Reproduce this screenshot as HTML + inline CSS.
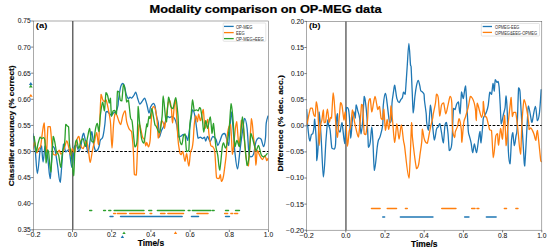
<!DOCTYPE html><html><head><meta charset="utf-8"><style>html,body{margin:0;padding:0;background:#fff;overflow:hidden}svg{display:block}</style></head><body><svg width="550" height="252" viewBox="0 0 550 252">
<rect width="550" height="252" fill="#fff"/>
<defs><clipPath id="ca"><rect x="33.3" y="21.0" width="235.2" height="208.8"/></clipPath><clipPath id="cb"><rect x="306.6" y="21.4" width="235.19999999999993" height="208.79999999999998"/></clipPath></defs>
<text x="149.5" y="12.7" font-family="Liberation Sans" font-weight="bold" font-size="11.3" fill="#000" stroke="#000" stroke-width="0.22" textLength="232.0" lengthAdjust="spacingAndGlyphs">Modality comparison on OP-MEG data</text>
<line x1="72.80" y1="21.0" x2="72.80" y2="229.8" stroke="#3a3a3a" stroke-width="1.15"/>
<line x1="33.3" y1="151.50" x2="268.5" y2="151.50" stroke="#000" stroke-width="1.05" stroke-dasharray="2.75,1.57" stroke-dashoffset="-0.26"/>
<path d="M33.0,133.3 C33.37,136.02 34.47,142.88 35.2,149.6 C35.93,156.32 36.58,173.53 37.4,173.6 C38.22,173.60 39.42,154.60 40.1,150.0 C40.78,146.00 41.00,146.00 41.5,146.0 C42.00,148.00 42.52,162.00 43.1,162.0 C43.68,162.00 44.43,148.00 45.0,146.0 C45.57,146.00 46.00,147.67 46.5,150.0 C47.00,152.33 47.38,155.23 48.0,160.0 C48.62,164.77 49.43,178.60 50.2,178.6 C50.97,176.33 51.80,151.17 52.6,146.4 C53.40,146.40 54.18,146.90 55.0,150.0 C55.82,153.10 56.63,159.60 57.5,165.0 C58.37,170.40 59.20,182.40 60.2,182.4 C61.20,178.93 62.58,149.30 63.5,144.2 C64.42,144.20 64.78,150.90 65.7,151.8 C66.62,151.80 67.97,149.60 69.0,149.6 C70.03,152.20 71.03,167.40 71.9,167.4 C72.77,166.98 73.45,150.85 74.2,147.1 C74.95,144.90 75.65,144.90 76.4,144.9 C77.15,145.55 77.95,150.82 78.7,151.0 C79.45,151.00 80.27,148.50 80.9,146.0 C81.53,143.50 82.03,138.13 82.5,136.0 C82.97,133.87 83.03,133.20 83.7,133.2 C84.37,134.87 85.75,142.70 86.5,146.0 C87.25,149.30 87.58,153.00 88.2,153.0 C88.82,152.00 89.60,143.57 90.2,140.0 C90.80,136.43 91.25,131.60 91.8,131.6 C92.35,132.20 92.87,140.38 93.5,143.6 C94.13,146.82 94.92,149.83 95.6,150.9 C96.28,150.90 97.00,150.82 97.6,150.0 C98.20,149.18 98.77,147.60 99.2,146.0 C99.63,144.40 99.70,141.70 100.2,140.4 C100.70,139.10 101.68,139.12 102.2,138.2 C102.72,137.28 102.85,137.27 103.3,134.9 C103.75,132.53 104.45,127.82 104.9,124.0 C105.35,120.18 105.55,114.08 106.0,112.0 C106.45,111.50 107.05,111.50 107.6,111.5 C108.15,111.77 108.65,112.97 109.3,113.6 C109.95,114.23 110.78,115.30 111.5,115.3 C112.22,115.22 112.78,113.83 113.6,113.1 C114.42,112.37 115.67,112.17 116.4,110.9 C117.13,109.63 117.65,107.35 118.0,105.5 C118.35,103.65 118.05,102.93 118.5,99.8 C118.95,96.67 120.00,89.42 120.7,86.7 C121.40,83.98 122.07,83.58 122.7,83.5 C123.33,83.50 123.92,84.38 124.5,86.2 C125.08,88.02 125.55,92.32 126.2,94.4 C126.85,96.48 127.77,98.25 128.4,98.7 C129.03,98.70 129.47,97.18 130.0,97.1 C130.53,97.10 130.97,98.20 131.6,98.2 C132.23,97.93 133.10,96.50 133.8,95.5 C134.50,94.50 135.17,92.20 135.8,92.2 C136.43,92.65 136.93,96.20 137.6,98.2 C138.27,100.20 138.98,103.75 139.8,104.2 C140.62,104.20 141.68,101.90 142.5,100.9 C143.32,99.90 143.98,98.20 144.7,98.2 C145.42,98.75 146.08,101.72 146.8,104.2 C147.52,106.68 148.37,112.62 149.0,113.1 C149.63,113.10 149.87,108.73 150.6,107.1 C151.33,105.47 152.67,103.48 153.4,103.3 C154.13,103.30 154.47,103.82 155.0,106.0 C155.53,108.18 156.05,113.58 156.6,116.4 C157.15,119.22 157.83,119.45 158.3,122.9 C158.77,126.35 158.87,135.83 159.4,137.1 C159.93,137.10 160.78,132.32 161.5,130.5 C162.22,128.68 162.70,128.55 163.7,126.2 C164.70,123.85 166.50,117.85 167.5,116.4 C168.50,116.40 168.97,117.50 169.7,117.5 C170.43,117.50 171.08,116.40 171.9,116.4 C172.72,116.57 173.78,117.05 174.6,118.5 C175.42,119.95 176.15,122.00 176.8,125.1 C177.45,128.20 177.77,135.28 178.5,137.1 C179.23,137.10 180.38,136.45 181.2,136.0 C182.02,135.55 182.58,134.40 183.4,134.4 C184.22,134.40 185.38,135.00 186.1,136.0 C186.82,137.00 187.07,140.40 187.7,140.4 C188.33,138.85 189.08,131.80 189.9,126.7 C190.72,121.60 191.78,111.70 192.6,109.8 C193.42,109.80 194.15,112.38 194.8,115.3 C195.45,118.22 195.95,123.48 196.5,127.3 C197.05,131.12 197.47,136.57 198.1,138.2 C198.73,138.20 199.57,137.10 200.3,137.1 C201.03,137.15 201.80,138.48 202.5,138.5 C203.20,138.50 203.97,137.20 204.5,137.2 C205.03,137.62 205.18,141.00 205.7,141.0 C206.22,140.88 206.85,136.50 207.6,136.5 C208.35,136.60 209.35,141.60 210.2,141.6 C211.05,141.60 211.75,136.92 212.7,136.5 C213.65,136.50 215.05,137.60 215.9,139.1 C216.75,140.60 217.17,145.08 217.8,145.5 C218.43,145.50 218.95,143.40 219.7,141.6 C220.45,139.80 221.45,136.05 222.3,134.7 C223.15,133.50 224.07,133.50 224.8,133.5 C225.53,134.23 226.07,137.10 226.7,139.1 C227.33,141.10 228.13,145.50 228.6,145.5 C229.07,144.82 229.05,140.58 229.5,135.0 C229.95,129.42 230.75,113.67 231.3,112.0 C231.85,112.00 232.18,118.15 232.8,125.0 C233.42,131.85 234.22,145.78 235.0,153.1 C235.78,160.42 236.65,168.90 237.5,168.9 C238.35,168.27 239.35,154.95 240.1,149.3 C240.85,143.65 241.25,140.15 242.0,135.0 C242.75,129.85 243.75,119.50 244.6,118.4 C245.45,118.40 246.37,122.40 247.1,128.4 C247.83,134.40 248.37,149.65 249.0,154.4 C249.63,156.90 250.15,156.90 250.9,156.9 C251.65,156.90 252.65,156.90 253.5,154.4 C254.35,151.85 255.17,144.37 256.0,141.6 C256.83,138.83 257.65,138.22 258.5,137.8 C259.35,137.80 260.25,137.80 261.1,139.1 C261.95,140.58 262.87,146.70 263.6,146.7 C264.33,146.48 265.07,141.70 265.5,137.8 C265.93,133.90 265.77,127.00 266.2,123.3 C266.63,119.60 267.78,116.88 268.1,115.6" fill="none" stroke="#1f77b4" stroke-width="1.3" stroke-linejoin="round" clip-path="url(#ca)"/>
<path d="M33.0,149.6 C33.27,148.33 33.97,142.00 34.6,142.0 C35.23,142.55 36.07,151.82 36.8,152.9 C37.53,152.90 38.37,149.58 39.0,148.5 C39.63,147.42 40.05,148.50 40.6,146.4 C41.15,143.87 41.72,137.23 42.3,133.3 C42.88,129.37 43.57,122.80 44.1,122.8 C44.63,124.98 45.08,141.57 45.5,146.4 C45.92,151.23 46.18,151.80 46.6,151.8 C47.02,148.52 47.40,130.88 48.0,126.7 C48.60,126.70 49.52,126.70 50.2,126.7 C50.88,129.98 51.60,141.85 52.1,146.4 C52.60,150.95 52.65,152.55 53.2,154.0 C53.75,155.10 54.68,155.10 55.4,155.1 C56.12,154.92 56.87,153.72 57.5,152.9 C58.13,152.08 58.65,150.20 59.2,150.2 C59.75,150.38 60.25,153.55 60.8,154.0 C61.35,154.00 61.87,153.98 62.5,152.9 C63.13,151.82 63.88,149.50 64.6,147.5 C65.32,145.50 66.15,141.08 66.8,140.9 C67.45,140.90 67.87,144.03 68.5,146.4 C69.13,148.77 69.97,154.75 70.6,155.1 C71.23,155.10 71.65,148.87 72.3,148.5 C72.95,148.50 73.78,152.90 74.5,152.9 C75.22,151.63 75.88,143.63 76.6,140.9 C77.32,138.17 78.07,136.50 78.8,136.5 C79.53,137.42 80.27,144.40 81.0,146.4 C81.73,148.40 82.28,148.50 83.2,148.5 C84.12,147.58 85.60,140.90 86.5,140.9 C87.40,141.45 87.98,148.22 88.6,151.8 C89.22,155.38 89.57,162.40 90.2,162.4 C90.83,162.22 91.68,154.18 92.4,150.7 C93.12,147.22 93.78,144.50 94.5,141.5 C95.22,138.50 96.05,132.70 96.7,132.7 C97.35,133.23 97.93,144.70 98.4,144.7 C98.87,143.70 99.05,135.08 99.5,126.7 C99.95,118.32 100.57,98.88 101.1,94.4 C101.63,94.40 102.15,98.62 102.7,99.8 C103.25,100.98 103.85,101.50 104.4,101.5 C104.95,101.50 105.57,99.80 106.0,99.8 C106.43,100.05 106.63,101.52 107.0,103.0 C107.37,104.48 107.73,106.28 108.2,108.7 C108.67,111.12 109.40,114.95 109.8,117.5 C110.20,120.05 110.23,118.88 110.6,124.0 C110.97,129.12 111.50,148.20 112.0,148.2 C112.50,148.20 113.05,129.85 113.6,124.0 C114.15,118.15 114.75,114.55 115.3,113.1 C115.85,113.10 116.27,113.85 116.9,115.3 C117.53,116.75 118.47,120.27 119.1,121.8 C119.73,123.33 120.07,124.50 120.7,124.5 C121.33,123.42 122.17,117.57 122.9,115.3 C123.63,113.03 124.47,110.90 125.1,110.9 C125.73,111.98 126.07,118.88 126.7,121.8 C127.33,124.72 128.27,126.95 128.9,128.4 C129.53,129.85 130.05,129.97 130.5,130.5 C130.95,131.03 131.13,130.50 131.6,131.6 C132.07,134.85 132.83,142.85 133.3,150.0 C133.77,157.15 133.90,170.33 134.4,174.5 C134.90,175.00 135.78,175.00 136.3,175.0 C136.82,170.92 137.00,158.50 137.5,150.0 C138.00,141.50 138.47,126.15 139.3,124.0 C140.13,124.00 141.68,134.55 142.5,137.1 C143.32,139.30 143.65,137.85 144.2,139.3 C144.75,140.75 145.37,145.27 145.8,145.8 C146.23,145.80 146.35,142.50 146.8,142.5 C147.25,142.68 147.95,146.90 148.5,146.9 C149.05,146.55 149.70,143.77 150.1,140.4 C150.50,137.03 150.53,131.98 150.9,126.7 C151.27,121.42 151.80,112.07 152.3,108.7 C152.80,106.50 153.37,106.50 153.9,106.5 C154.43,106.68 154.95,107.25 155.5,109.8 C156.05,112.35 156.73,117.07 157.2,121.8 C157.67,126.53 157.83,136.50 158.3,138.2 C158.77,138.20 159.47,134.92 160.0,132.0 C160.53,129.08 160.88,122.03 161.5,120.7 C162.12,120.70 163.20,122.72 163.7,124.0 C164.20,125.28 164.18,128.40 164.5,128.4 C164.82,128.07 165.00,126.18 165.6,122.0 C166.20,117.82 167.42,106.88 168.1,103.3 C168.78,100.50 169.15,100.50 169.7,100.5 C170.25,101.40 170.93,104.97 171.4,108.7 C171.87,112.43 171.97,122.90 172.5,122.9 C173.03,122.00 174.07,107.12 174.6,103.3 C175.13,100.00 175.15,100.00 175.7,100.0 C176.25,105.82 177.27,129.75 177.9,138.2 C178.53,146.65 179.13,148.13 179.5,150.7 C179.87,153.27 179.82,152.93 180.1,153.6 C180.38,154.27 180.75,154.70 181.2,154.7 C181.65,154.35 182.17,151.50 182.8,151.5 C183.43,152.60 184.37,160.95 185.0,161.3 C185.63,161.30 185.97,153.60 186.6,153.6 C187.23,154.42 188.15,166.20 188.8,166.2 C189.45,166.02 189.95,155.50 190.5,152.5 C191.05,149.50 191.65,150.22 192.1,148.2 C192.55,146.18 192.83,144.43 193.2,140.4 C193.57,136.37 193.85,128.10 194.3,124.0 C194.75,119.90 195.37,116.17 195.9,115.8 C196.43,115.80 197.05,121.80 197.5,121.8 C197.95,121.53 198.13,114.38 198.6,114.2 C199.07,114.20 199.85,120.03 200.3,120.7 C200.75,120.70 200.82,120.08 201.3,118.2 C201.78,116.32 202.57,109.40 203.2,109.4 C203.83,111.10 204.37,126.72 205.1,128.4 C205.83,128.40 206.97,119.50 207.6,119.5 C208.23,120.35 208.37,129.17 208.9,133.5 C209.43,137.83 210.17,143.30 210.8,145.5 C211.43,146.70 212.07,145.87 212.7,146.7 C213.33,147.53 214.13,147.95 214.6,150.5 C215.07,153.05 215.17,157.45 215.5,162.0 C215.83,166.55 216.00,175.05 216.6,177.8 C217.20,178.50 218.48,178.50 219.1,178.5 C219.72,177.98 219.90,174.70 220.3,174.7 C220.70,175.18 220.98,181.10 221.5,181.4 C222.02,181.40 222.82,179.23 223.4,176.5 C223.98,173.77 224.48,169.08 225.0,165.0 C225.52,160.92 226.10,157.17 226.5,152.0 C226.90,146.83 226.73,138.58 227.4,134.0 C228.07,129.42 229.65,124.50 230.5,124.5 C231.35,127.90 231.85,152.18 232.5,154.4 C233.15,154.40 233.72,143.27 234.4,137.8 C235.08,132.33 235.87,121.60 236.6,121.6 C237.33,122.88 238.17,143.27 238.8,145.5 C239.43,145.50 239.97,139.22 240.4,135.0 C240.83,130.78 240.92,121.52 241.4,120.2 C241.88,120.20 242.57,121.20 243.3,127.1 C244.03,133.00 244.95,149.15 245.8,155.6 C246.65,162.05 247.45,165.80 248.4,165.8 C249.35,159.65 250.65,123.45 251.5,118.7 C252.35,118.70 252.97,132.63 253.5,137.3 C254.03,141.97 254.28,142.07 254.7,146.7 C255.12,151.33 255.57,164.47 256.0,165.1 C256.43,165.10 256.67,152.08 257.3,150.5 C257.93,150.50 258.95,154.10 259.8,155.6 C260.65,157.10 261.55,159.50 262.4,159.5 C263.25,159.50 264.17,155.60 264.9,155.6 C265.63,155.80 266.27,160.30 266.8,160.7 C267.33,160.70 267.88,158.45 268.1,158.0" fill="none" stroke="#ff7f0e" stroke-width="1.3" stroke-linejoin="round" clip-path="url(#ca)"/>
<path d="M33.0,136.7 C33.18,136.67 33.55,136.50 34.1,136.5 C34.65,139.02 35.67,150.52 36.3,151.8 C36.93,151.80 37.27,146.65 37.9,144.2 C38.53,141.75 39.47,138.02 40.1,137.1 C40.73,137.10 41.15,138.62 41.7,138.7 C42.25,138.70 42.88,137.60 43.4,137.6 C43.92,137.82 44.33,137.60 44.8,140.0 C45.27,144.23 45.75,161.33 46.2,163.0 C46.65,163.00 47.10,151.83 47.5,150.0 C47.90,150.00 48.05,150.00 48.6,152.0 C49.15,155.67 50.03,172.00 50.8,172.0 C51.57,169.42 52.53,141.50 53.2,136.5 C53.87,136.50 54.25,139.45 54.8,142.0 C55.35,144.55 55.87,149.62 56.5,151.8 C57.13,153.98 57.88,152.50 58.6,155.1 C59.32,157.70 60.15,167.40 60.8,167.4 C61.45,166.85 61.87,155.85 62.5,151.8 C63.13,147.75 64.05,147.67 64.6,143.1 C65.15,138.53 65.33,127.23 65.8,124.4 C66.27,124.40 66.93,125.67 67.4,126.1 C67.87,126.53 68.25,126.10 68.6,127.0 C68.95,130.02 69.07,139.70 69.5,144.2 C69.93,148.70 70.52,148.73 71.2,154.0 C71.88,159.27 72.97,175.80 73.6,175.8 C74.23,174.53 74.50,152.40 75.0,146.4 C75.50,140.40 75.97,139.80 76.6,139.8 C77.23,140.15 78.07,148.32 78.8,148.5 C79.53,148.50 80.27,142.53 81.0,140.9 C81.73,139.27 82.47,138.70 83.2,138.7 C83.93,139.62 84.68,146.40 85.4,146.4 C86.12,146.22 86.80,140.60 87.5,137.6 C88.20,134.60 88.97,128.40 89.6,128.4 C90.23,128.87 90.65,138.13 91.3,140.4 C91.95,142.00 92.78,142.00 93.5,142.0 C94.22,140.00 94.97,131.48 95.6,128.4 C96.23,125.32 96.75,123.50 97.3,123.5 C97.85,124.03 98.37,131.60 98.9,131.6 C99.43,130.05 99.87,119.10 100.5,114.2 C101.13,109.30 102.05,102.75 102.7,102.2 C103.35,102.20 103.85,110.90 104.4,110.9 C104.95,109.32 105.47,95.27 106.0,92.7 C106.53,92.70 107.05,93.77 107.6,95.5 C108.15,97.23 108.83,102.65 109.3,103.1 C109.77,103.10 110.03,98.20 110.4,98.2 C110.77,100.42 111.05,114.28 111.5,116.4 C111.95,116.40 112.57,111.90 113.1,110.9 C113.63,110.40 114.15,110.40 114.7,110.4 C115.25,110.95 115.93,114.20 116.4,114.2 C116.87,110.98 117.05,94.77 117.5,91.1 C117.95,91.10 118.65,91.10 119.1,92.2 C119.55,93.65 119.75,98.35 120.2,99.8 C120.65,100.90 121.25,100.90 121.8,100.9 C122.35,98.35 122.95,86.32 123.5,84.5 C124.05,84.50 124.57,87.08 125.1,90.0 C125.63,92.92 126.15,100.37 126.7,102.0 C127.25,102.00 127.77,99.80 128.4,99.8 C129.03,102.38 129.87,113.83 130.5,117.5 C131.13,121.17 131.47,117.50 132.2,121.8 C132.93,126.70 134.08,143.80 134.9,146.9 C135.72,146.90 136.55,146.90 137.1,140.4 C137.65,133.67 137.80,109.60 138.2,106.5 C138.60,106.50 138.95,116.52 139.5,121.8 C140.05,127.08 140.82,134.65 141.5,138.2 C142.18,141.75 143.08,142.92 143.6,143.1 C144.12,143.10 144.07,142.48 144.6,139.3 C145.13,136.12 146.33,126.10 146.8,124.0 C147.27,124.00 147.03,126.70 147.4,126.7 C147.77,125.43 148.55,117.77 149.0,116.4 C149.45,116.40 149.65,118.50 150.1,118.5 C150.55,117.22 151.15,109.05 151.7,108.7 C152.25,108.70 152.85,113.67 153.4,116.4 C153.95,119.13 154.55,123.47 155.0,125.1 C155.45,126.20 155.37,125.10 156.1,126.2 C156.83,127.47 158.40,132.70 159.4,132.7 C160.40,131.07 161.47,122.52 162.1,116.4 C162.73,110.28 162.65,96.00 163.2,96.0 C163.75,96.00 164.85,112.10 165.4,116.4 C165.95,120.70 165.97,121.80 166.5,121.8 C167.03,118.58 167.88,99.65 168.6,97.1 C169.32,97.10 170.07,104.57 170.8,106.5 C171.53,108.43 172.18,108.70 173.0,108.7 C173.82,107.22 174.88,97.60 175.7,97.6 C176.52,98.52 177.35,107.98 177.9,114.2 C178.45,120.42 178.37,129.82 179.0,134.9 C179.63,139.98 180.97,144.52 181.7,144.7 C182.43,144.70 182.85,137.82 183.4,136.0 C183.95,134.18 184.47,133.80 185.0,133.8 C185.53,136.38 185.97,148.73 186.6,151.5 C187.23,151.50 188.25,151.50 188.8,150.4 C189.35,145.82 189.53,129.67 189.9,124.0 C190.27,118.33 190.55,120.43 191.0,116.4 C191.45,112.37 192.05,100.72 192.6,99.8 C193.15,99.80 193.65,109.23 194.3,110.9 C194.95,110.90 195.87,109.80 196.5,109.8 C197.13,109.80 197.57,110.90 198.1,110.9 C198.63,110.53 199.28,107.97 199.7,107.6 C200.12,107.60 200.13,107.60 200.6,108.7 C201.07,110.88 201.97,116.78 202.5,120.7 C203.03,124.62 203.27,132.20 203.8,132.2 C204.33,132.20 205.07,121.33 205.7,120.7 C206.33,120.70 206.85,128.40 207.6,128.4 C208.35,127.77 209.45,116.90 210.2,116.9 C210.95,117.75 211.57,132.43 212.1,133.5 C212.63,133.50 212.77,123.30 213.4,123.3 C214.03,125.50 215.17,141.32 215.9,146.7 C216.63,152.08 217.17,151.68 217.8,155.6 C218.43,159.52 218.95,170.20 219.7,170.2 C220.45,168.72 221.67,151.25 222.3,146.7 C222.93,142.90 222.97,142.90 223.5,142.9 C224.03,143.12 224.85,148.00 225.5,148.0 C226.15,147.78 226.77,145.08 227.4,141.6 C228.03,138.12 228.67,133.43 229.3,127.1 C229.93,120.77 230.57,104.67 231.2,103.6 C231.83,103.60 232.47,113.52 233.1,120.7 C233.73,127.88 234.37,143.42 235.0,146.7 C235.63,146.70 236.15,140.40 236.9,140.4 C237.65,140.40 238.57,146.70 239.5,146.7 C240.43,142.78 241.67,118.02 242.5,116.9 C243.33,116.90 243.73,131.87 244.5,140.0 C245.27,148.13 246.35,162.88 247.1,165.7 C247.85,165.70 248.47,161.12 249.0,156.9 C249.53,152.68 249.98,144.30 250.3,140.4 C250.62,136.50 250.45,133.57 250.9,133.5 C251.35,133.50 252.15,137.17 253.0,140.0 C253.85,142.83 255.08,149.58 256.0,150.5 C256.92,150.50 257.65,145.50 258.5,145.5 C259.35,146.15 260.25,152.50 261.1,154.4 C261.95,156.30 262.87,156.70 263.6,156.9 C264.33,156.90 264.85,156.23 265.5,155.6 C266.15,154.97 267.17,153.52 267.5,153.1" fill="none" stroke="#2ca02c" stroke-width="1.3" stroke-linejoin="round" clip-path="url(#ca)"/>
<line x1="31.10" y1="229.80" x2="33.30" y2="229.80" stroke="#000" stroke-width="0.5"/>
<text x="30.70" y="232.20" font-family="Liberation Sans" font-size="6.5" fill="#1a1a1a" stroke="#000" stroke-width="0.06" text-anchor="end" textLength="13.02" lengthAdjust="spacingAndGlyphs">0.35</text>
<line x1="31.10" y1="203.70" x2="33.30" y2="203.70" stroke="#000" stroke-width="0.5"/>
<text x="30.70" y="206.10" font-family="Liberation Sans" font-size="6.5" fill="#1a1a1a" stroke="#000" stroke-width="0.06" text-anchor="end" textLength="13.02" lengthAdjust="spacingAndGlyphs">0.40</text>
<line x1="31.10" y1="177.60" x2="33.30" y2="177.60" stroke="#000" stroke-width="0.5"/>
<text x="30.70" y="180.00" font-family="Liberation Sans" font-size="6.5" fill="#1a1a1a" stroke="#000" stroke-width="0.06" text-anchor="end" textLength="13.02" lengthAdjust="spacingAndGlyphs">0.45</text>
<line x1="31.10" y1="151.50" x2="33.30" y2="151.50" stroke="#000" stroke-width="0.5"/>
<text x="30.70" y="153.90" font-family="Liberation Sans" font-size="6.5" fill="#1a1a1a" stroke="#000" stroke-width="0.06" text-anchor="end" textLength="13.02" lengthAdjust="spacingAndGlyphs">0.50</text>
<line x1="31.10" y1="125.40" x2="33.30" y2="125.40" stroke="#000" stroke-width="0.5"/>
<text x="30.70" y="127.80" font-family="Liberation Sans" font-size="6.5" fill="#1a1a1a" stroke="#000" stroke-width="0.06" text-anchor="end" textLength="13.02" lengthAdjust="spacingAndGlyphs">0.55</text>
<line x1="31.10" y1="99.30" x2="33.30" y2="99.30" stroke="#000" stroke-width="0.5"/>
<text x="30.70" y="101.70" font-family="Liberation Sans" font-size="6.5" fill="#1a1a1a" stroke="#000" stroke-width="0.06" text-anchor="end" textLength="13.02" lengthAdjust="spacingAndGlyphs">0.60</text>
<line x1="31.10" y1="73.20" x2="33.30" y2="73.20" stroke="#000" stroke-width="0.5"/>
<text x="30.70" y="75.60" font-family="Liberation Sans" font-size="6.5" fill="#1a1a1a" stroke="#000" stroke-width="0.06" text-anchor="end" textLength="13.02" lengthAdjust="spacingAndGlyphs">0.65</text>
<line x1="31.10" y1="47.10" x2="33.30" y2="47.10" stroke="#000" stroke-width="0.5"/>
<text x="30.70" y="49.50" font-family="Liberation Sans" font-size="6.5" fill="#1a1a1a" stroke="#000" stroke-width="0.06" text-anchor="end" textLength="13.02" lengthAdjust="spacingAndGlyphs">0.70</text>
<line x1="31.10" y1="21.00" x2="33.30" y2="21.00" stroke="#000" stroke-width="0.5"/>
<text x="30.70" y="23.40" font-family="Liberation Sans" font-size="6.5" fill="#1a1a1a" stroke="#000" stroke-width="0.06" text-anchor="end" textLength="13.02" lengthAdjust="spacingAndGlyphs">0.75</text>
<line x1="33.30" y1="229.80" x2="33.30" y2="232.00" stroke="#000" stroke-width="0.5"/>
<text x="33.30" y="237.15" font-family="Liberation Sans" font-size="6.5" fill="#1a1a1a" stroke="#000" stroke-width="0.06" text-anchor="middle" textLength="14.20" lengthAdjust="spacingAndGlyphs">−0.2</text>
<line x1="72.50" y1="229.80" x2="72.50" y2="232.00" stroke="#000" stroke-width="0.5"/>
<text x="72.50" y="237.15" font-family="Liberation Sans" font-size="6.5" fill="#1a1a1a" stroke="#000" stroke-width="0.06" text-anchor="middle" textLength="9.30" lengthAdjust="spacingAndGlyphs">0.0</text>
<line x1="111.70" y1="229.80" x2="111.70" y2="232.00" stroke="#000" stroke-width="0.5"/>
<text x="111.70" y="237.15" font-family="Liberation Sans" font-size="6.5" fill="#1a1a1a" stroke="#000" stroke-width="0.06" text-anchor="middle" textLength="9.30" lengthAdjust="spacingAndGlyphs">0.2</text>
<line x1="150.90" y1="229.80" x2="150.90" y2="232.00" stroke="#000" stroke-width="0.5"/>
<text x="150.90" y="237.15" font-family="Liberation Sans" font-size="6.5" fill="#1a1a1a" stroke="#000" stroke-width="0.06" text-anchor="middle" textLength="9.30" lengthAdjust="spacingAndGlyphs">0.4</text>
<line x1="190.10" y1="229.80" x2="190.10" y2="232.00" stroke="#000" stroke-width="0.5"/>
<text x="190.10" y="237.15" font-family="Liberation Sans" font-size="6.5" fill="#1a1a1a" stroke="#000" stroke-width="0.06" text-anchor="middle" textLength="9.30" lengthAdjust="spacingAndGlyphs">0.6</text>
<line x1="229.30" y1="229.80" x2="229.30" y2="232.00" stroke="#000" stroke-width="0.5"/>
<text x="229.30" y="237.15" font-family="Liberation Sans" font-size="6.5" fill="#1a1a1a" stroke="#000" stroke-width="0.06" text-anchor="middle" textLength="9.30" lengthAdjust="spacingAndGlyphs">0.8</text>
<line x1="268.50" y1="229.80" x2="268.50" y2="232.00" stroke="#000" stroke-width="0.5"/>
<text x="268.50" y="237.15" font-family="Liberation Sans" font-size="6.5" fill="#1a1a1a" stroke="#000" stroke-width="0.06" text-anchor="middle" textLength="9.30" lengthAdjust="spacingAndGlyphs">1.0</text>
<text x="150.90" y="246.10" font-family="Liberation Sans" font-weight="bold" font-size="8.5" fill="#000" stroke="#000" stroke-width="0.15" text-anchor="middle" textLength="26.5" lengthAdjust="spacingAndGlyphs">Time/s</text>
<text transform="translate(14.0,125.8) rotate(-90)" font-family="Liberation Sans" font-weight="bold" font-size="8.1" fill="#000" stroke="#000" stroke-width="0.15" text-anchor="middle" textLength="120.7" lengthAdjust="spacingAndGlyphs">Classifier accuracy (% correct)</text>
<text x="35.80" y="28.25" font-family="Liberation Sans" font-weight="bold" font-size="7" fill="#000" textLength="11.5" lengthAdjust="spacingAndGlyphs">(a)</text>
<rect x="33.30" y="21.00" width="235.20" height="208.80" fill="none" stroke="#555" stroke-width="0.5"/>
<line x1="345.95" y1="21.4" x2="345.95" y2="230.2" stroke="#3a3a3a" stroke-width="1.15"/>
<line x1="306.6" y1="125.50" x2="541.8" y2="125.50" stroke="#000" stroke-width="1.05" stroke-dasharray="2.75,1.57" stroke-dashoffset="-0.26"/>
<path d="M306.6,109.0 C306.72,110.50 307.13,115.40 307.3,118.0 C307.47,120.60 307.30,121.23 307.6,124.6 C307.90,127.97 308.70,135.47 309.1,138.2 C309.50,140.93 309.62,141.00 310.0,141.0 C310.38,140.40 310.93,135.82 311.4,134.6 C311.87,133.70 312.35,134.60 312.8,133.7 C313.25,132.33 313.80,128.82 314.1,126.4 C314.40,123.98 314.22,119.20 314.6,119.2 C314.98,121.93 316.03,135.92 316.4,142.8 C316.77,149.68 316.50,160.20 316.8,160.5 C317.10,160.50 317.80,152.70 318.2,144.6 C318.60,136.50 318.73,113.50 319.2,111.9 C319.67,111.90 320.28,124.18 321.0,135.0 C321.72,145.82 322.67,175.97 323.5,176.8 C324.33,176.80 325.28,149.47 326.0,140.0 C326.72,130.53 327.35,122.42 327.8,120.0 C328.25,120.00 328.32,123.83 328.7,125.5 C329.08,127.17 329.57,126.22 330.1,130.0 C330.63,133.78 331.22,145.02 331.9,148.2 C332.58,149.10 333.60,149.10 334.2,149.1 C334.80,148.52 335.12,149.10 335.5,144.7 C335.88,139.85 336.18,125.17 336.5,120.0 C336.82,114.83 337.10,113.70 337.4,113.7 C337.70,115.22 337.85,126.07 338.3,129.1 C338.75,131.90 339.48,131.90 340.1,131.9 C340.72,130.83 341.23,122.70 342.0,122.7 C342.77,124.65 343.95,143.60 344.7,143.6 C345.45,141.03 345.88,113.05 346.5,107.3 C347.12,107.30 347.90,107.32 348.4,109.1 C348.90,110.88 349.10,113.18 349.5,118.0 C349.90,122.82 350.33,137.55 350.8,138.0 C351.27,138.00 351.77,125.03 352.3,120.7 C352.83,116.37 353.52,112.45 354.0,112.0 C354.48,112.00 354.83,118.00 355.2,118.0 C355.57,116.82 355.77,106.08 356.2,104.9 C356.63,104.90 357.25,108.80 357.8,110.9 C358.35,113.00 358.95,113.68 359.5,117.5 C360.05,121.32 360.57,133.27 361.1,133.8 C361.63,133.80 362.18,126.92 362.7,120.7 C363.22,114.48 363.77,99.80 364.2,96.5 C364.63,96.50 364.85,97.53 365.3,100.9 C365.75,104.27 366.45,110.52 366.9,116.7 C367.35,122.88 367.73,132.90 368.0,138.0 C368.27,143.10 368.13,146.57 368.5,147.3 C368.87,147.30 369.65,145.77 370.2,142.4 C370.75,139.03 371.35,127.33 371.8,127.1 C372.25,127.10 372.45,133.78 372.9,141.0 C373.35,148.22 373.77,169.45 374.5,170.4 C375.23,170.40 376.65,151.73 377.3,146.7 C377.95,141.67 377.95,141.83 378.4,140.2 C378.85,138.57 379.28,139.45 380.0,136.9 C380.72,134.35 382.15,130.17 382.7,124.9 C383.25,119.63 382.83,110.57 383.3,105.3 C383.77,100.03 384.87,93.67 385.5,93.3 C386.13,93.30 386.57,99.20 387.1,103.1 C387.63,107.00 388.25,113.43 388.7,116.7 C389.15,119.97 389.33,122.42 389.8,122.7 C390.27,122.70 391.13,121.67 391.5,118.4 C391.87,115.13 391.65,107.65 392.0,103.1 C392.35,98.55 393.15,94.08 393.6,91.1 C394.05,88.12 394.15,85.20 394.7,85.2 C395.25,86.47 396.17,95.82 396.9,98.7 C397.63,101.58 398.47,102.32 399.1,102.5 C399.73,102.50 400.15,100.62 400.7,99.8 C401.25,98.98 401.93,98.87 402.4,97.6 C402.87,96.33 403.05,92.73 403.5,92.2 C403.95,92.20 404.65,94.40 405.1,94.4 C405.55,92.60 405.83,86.30 406.2,81.4 C406.57,76.50 406.85,71.35 407.3,65.0 C407.75,58.65 408.37,43.30 408.9,43.3 C409.43,43.30 410.13,61.10 410.5,65.0 C410.87,66.70 410.82,65.00 411.1,66.7 C411.38,71.15 411.83,84.00 412.2,91.7 C412.57,99.40 412.85,112.10 413.3,112.9 C413.75,112.90 414.37,101.03 414.9,96.5 C415.43,91.97 415.95,88.40 416.5,85.7 C417.05,83.00 417.65,80.30 418.2,80.3 C418.75,80.30 419.38,84.02 419.8,85.7 C420.22,87.38 420.27,89.35 420.7,90.4 C421.13,91.45 421.85,91.37 422.4,92.0 C422.95,92.63 423.65,92.75 424.0,94.2 C424.35,95.65 424.13,97.43 424.5,100.7 C424.87,103.97 425.83,110.17 426.2,113.8 C426.57,117.43 426.33,119.77 426.7,122.5 C427.07,125.23 427.77,130.20 428.4,130.2 C429.03,127.30 429.87,106.55 430.5,105.1 C431.13,105.10 431.55,115.68 432.2,121.5 C432.85,127.32 433.68,138.73 434.4,140.0 C435.12,140.00 435.87,131.28 436.5,129.1 C437.13,126.92 437.65,127.82 438.2,126.9 C438.75,125.98 439.25,123.60 439.8,123.6 C440.35,124.52 440.92,129.18 441.5,132.4 C442.08,135.62 442.72,142.90 443.3,142.9 C443.88,141.67 444.48,128.40 445.0,125.0 C445.52,122.50 445.90,122.50 446.4,122.5 C446.90,123.92 447.52,128.83 448.0,133.5 C448.48,138.17 448.82,148.02 449.3,150.5 C449.78,150.50 450.45,150.03 450.9,148.4 C451.35,146.77 451.57,147.37 452.0,140.7 C452.43,134.03 452.98,113.60 453.5,108.4 C454.02,108.40 454.57,109.50 455.1,109.5 C455.63,108.77 456.15,105.28 456.7,104.0 C457.25,102.72 457.85,101.80 458.4,101.8 C458.95,103.43 459.47,113.80 460.0,113.8 C460.53,112.17 461.05,94.55 461.6,92.0 C462.15,92.00 462.65,98.50 463.3,98.5 C463.95,97.50 464.78,86.00 465.5,86.0 C466.22,89.37 467.12,111.03 467.6,118.7 C468.08,126.37 468.08,129.05 468.4,132.0 C468.72,134.95 469.05,134.58 469.5,136.4 C469.95,138.22 470.57,140.18 471.1,142.9 C471.63,145.62 472.15,152.52 472.7,152.7 C473.25,152.70 473.77,144.00 474.4,144.0 C475.03,144.00 475.78,152.70 476.5,152.7 C477.22,151.78 478.12,142.03 478.7,138.5 C479.28,134.97 479.63,131.50 480.0,131.5 C480.37,132.23 480.45,142.90 480.9,142.9 C481.35,142.00 482.30,130.18 482.7,126.1 C483.10,122.02 482.93,120.23 483.3,118.4 C483.67,116.57 484.37,116.20 484.9,115.1 C485.43,114.00 485.95,113.43 486.5,111.8 C487.05,110.17 487.65,108.57 488.2,105.3 C488.75,102.03 489.25,94.02 489.8,92.2 C490.35,92.20 490.95,94.40 491.5,94.4 C492.05,92.95 492.65,84.05 493.1,83.5 C493.55,83.50 493.83,91.10 494.2,91.1 C494.57,90.45 494.85,81.05 495.3,79.6 C495.75,79.60 496.45,82.12 496.9,82.4 C497.35,82.40 497.63,81.30 498.0,81.3 C498.37,82.02 498.73,82.80 499.1,86.7 C499.47,90.60 499.83,98.52 500.2,104.7 C500.57,110.88 500.75,122.25 501.3,123.8 C501.85,123.80 502.87,116.72 503.5,114.0 C504.13,111.28 504.68,110.50 505.1,107.5 C505.52,104.50 505.63,96.00 506.0,96.0 C506.37,96.90 506.90,103.62 507.3,112.9 C507.70,122.18 507.95,143.20 508.4,151.7 C508.85,160.20 509.48,163.90 510.0,163.9 C510.52,161.95 511.05,145.22 511.5,140.0 C511.95,134.78 512.22,132.60 512.7,132.6 C513.18,133.55 513.85,145.15 514.4,145.7 C514.95,145.70 515.55,138.80 516.0,135.9 C516.45,133.00 516.67,135.90 517.1,128.3 C517.53,120.30 518.13,94.13 518.6,87.9 C519.07,87.90 519.55,88.22 519.9,90.9 C520.25,93.58 520.08,93.87 520.7,104.0 C521.32,114.13 522.93,141.37 523.6,151.7 C524.27,162.03 524.07,166.00 524.7,166.0 C525.33,160.72 526.77,130.00 527.4,120.0 C528.03,110.00 527.80,106.00 528.5,106.0 C529.20,106.33 530.98,119.33 531.6,122.0 C532.22,122.00 531.57,122.00 532.2,122.0 C532.83,119.42 534.53,106.72 535.4,106.5 C536.27,106.50 536.72,119.72 537.4,120.7 C538.08,120.70 538.87,117.65 539.5,112.4 C540.13,107.15 540.92,93.07 541.2,89.2" fill="none" stroke="#1f77b4" stroke-width="1.3" stroke-linejoin="round" clip-path="url(#cb)"/>
<path d="M306.6,125.0 C306.72,124.63 306.95,124.38 307.3,122.8 C307.65,121.22 308.17,117.93 308.7,115.5 C309.23,113.07 309.90,109.42 310.5,108.2 C311.10,108.20 311.77,108.20 312.3,108.2 C312.83,109.27 313.23,113.23 313.7,114.6 C314.17,115.97 314.65,116.40 315.1,116.4 C315.55,114.27 315.95,102.72 316.4,101.8 C316.85,101.80 317.45,107.03 317.8,110.9 C318.15,114.77 318.27,119.23 318.5,125.0 C318.73,130.77 318.83,145.48 319.2,145.5 C319.57,145.50 320.25,129.35 320.7,125.1 C321.15,120.85 321.47,122.52 321.9,120.0 C322.33,117.48 322.92,110.00 323.3,110.0 C323.68,110.45 323.82,120.73 324.2,122.7 C324.58,122.70 325.07,122.70 325.6,121.8 C326.13,119.53 326.80,109.10 327.4,109.1 C328.00,109.25 328.68,121.30 329.2,122.7 C329.72,122.70 330.12,118.25 330.5,117.5 C330.88,117.50 331.03,118.20 331.5,118.2 C331.97,114.12 332.70,93.75 333.3,93.0 C333.90,93.00 334.65,108.17 335.1,113.7 C335.55,119.23 335.62,122.27 336.0,126.2 C336.38,130.13 336.87,137.30 337.4,137.3 C337.93,135.93 338.67,123.77 339.2,118.0 C339.73,112.23 340.13,104.78 340.6,102.7 C341.07,102.70 341.43,102.70 342.0,105.5 C342.57,108.38 343.47,118.92 344.0,120.0 C344.53,120.00 344.62,112.00 345.2,112.0 C345.78,116.33 346.85,142.73 347.5,146.0 C348.15,146.00 348.57,134.90 349.1,131.6 C349.63,128.30 350.13,129.80 350.7,126.2 C351.27,122.60 351.87,110.73 352.5,110.0 C353.13,110.00 353.88,118.55 354.5,121.8 C355.12,125.05 355.55,126.97 356.2,129.5 C356.85,132.03 357.68,137.00 358.4,137.0 C359.12,135.00 359.97,122.93 360.5,117.5 C361.03,112.07 361.23,106.40 361.6,104.4 C361.97,104.40 362.27,104.40 362.7,105.5 C363.13,110.37 363.68,128.73 364.2,133.6 C364.72,134.70 365.25,134.70 365.8,134.7 C366.35,132.52 367.05,125.77 367.5,120.5 C367.95,115.23 368.05,106.73 368.5,103.1 C368.95,99.47 369.65,98.70 370.2,98.7 C370.75,100.15 371.25,111.07 371.8,111.8 C372.35,111.80 372.95,105.65 373.5,103.1 C374.05,100.55 374.57,96.50 375.1,96.5 C375.63,96.68 376.25,102.02 376.7,104.2 C377.15,106.38 377.33,109.23 377.8,109.6 C378.27,109.60 378.95,106.40 379.5,106.4 C380.05,107.87 380.57,116.22 381.1,118.4 C381.63,119.50 382.25,119.50 382.7,119.5 C383.15,117.95 383.33,109.10 383.8,109.1 C384.27,110.92 384.95,128.67 385.5,130.4 C386.05,130.40 386.57,119.68 387.1,119.5 C387.63,119.50 388.15,129.30 388.7,129.3 C389.25,128.93 390.03,121.22 390.4,117.3 C390.77,113.38 390.55,105.80 390.9,105.8 C391.25,106.25 391.87,113.90 392.5,120.0 C393.13,126.10 393.97,141.77 394.7,142.4 C395.43,142.40 396.17,124.35 396.9,123.8 C397.63,123.80 398.37,138.92 399.1,139.1 C399.83,139.10 400.57,124.90 401.3,124.9 C402.03,125.17 402.97,137.25 403.5,140.7 C404.03,144.15 403.60,140.70 404.5,145.6 C405.40,151.82 407.72,178.00 408.9,178.0 C410.08,174.18 411.00,129.37 411.6,122.7 C412.20,122.70 411.68,130.33 412.5,138.0 C413.32,145.67 415.50,164.18 416.5,168.7 C417.50,168.70 417.88,167.70 418.5,165.1 C419.12,162.50 419.65,157.10 420.2,153.1 C420.75,149.10 421.43,145.10 421.8,141.1 C422.17,137.10 422.03,129.65 422.4,129.1 C422.77,129.10 423.47,135.62 424.0,137.8 C424.53,139.98 425.05,141.28 425.6,142.2 C426.15,143.12 426.65,143.30 427.3,143.3 C427.95,141.67 428.87,135.50 429.5,132.4 C430.13,129.30 430.57,127.07 431.1,124.7 C431.63,122.33 432.33,120.02 432.7,118.2 C433.07,116.38 432.83,116.35 433.3,113.8 C433.77,111.25 434.97,106.17 435.5,102.9 C436.03,99.63 436.05,95.10 436.5,94.2 C436.95,94.20 437.65,94.20 438.2,97.5 C438.75,101.13 439.25,114.73 439.8,116.0 C440.35,116.00 440.87,107.28 441.5,105.1 C442.13,102.92 442.88,102.90 443.6,102.9 C444.32,104.35 445.07,113.43 445.8,113.8 C446.53,113.80 447.27,108.00 448.0,105.1 C448.73,102.20 449.57,96.77 450.2,96.4 C450.83,96.40 451.42,97.55 451.8,102.9 C452.18,108.25 452.02,122.73 452.5,128.5 C452.98,134.27 454.23,136.95 454.7,137.5 C455.17,137.50 454.83,133.65 455.3,131.8 C455.77,129.95 456.87,128.58 457.5,126.4 C458.13,124.22 458.47,118.70 459.1,118.7 C459.73,119.23 460.85,125.65 461.3,129.6 C461.75,133.55 461.38,142.40 461.8,142.4 C462.22,141.22 463.17,126.82 463.8,122.5 C464.43,118.18 464.87,119.03 465.6,116.5 C466.33,113.97 467.40,110.65 468.2,107.3 C469.00,103.95 469.68,97.87 470.4,96.4 C471.12,96.40 471.87,97.42 472.5,98.5 C473.13,99.58 473.70,100.98 474.2,102.9 C474.70,104.82 475.17,107.07 475.5,110.0 C475.83,112.93 475.90,120.50 476.2,120.5 C476.50,119.35 476.75,104.73 477.3,103.1 C477.85,103.10 478.78,108.33 479.5,110.7 C480.22,113.07 481.00,117.30 481.6,117.3 C482.20,117.18 482.82,112.63 483.1,110.0 C483.38,107.37 483.00,101.50 483.3,101.5 C483.60,102.53 484.37,113.57 484.9,116.2 C485.43,117.30 485.95,116.20 486.5,117.3 C487.05,118.57 487.68,121.75 488.2,123.8 C488.72,125.85 489.05,128.48 489.6,129.6 C490.15,130.50 490.87,129.60 491.5,130.5 C492.13,135.17 492.68,156.70 493.4,157.6 C494.12,157.60 495.12,139.88 495.8,135.9 C496.48,133.70 497.05,133.70 497.5,133.7 C497.95,135.25 497.97,145.20 498.5,145.2 C499.03,144.30 500.05,129.30 500.7,128.3 C501.35,128.30 501.77,139.20 502.4,139.2 C503.03,137.00 503.87,115.10 504.5,115.1 C505.13,116.18 505.62,144.05 506.2,145.7 C506.78,145.70 507.32,131.95 508.0,125.0 C508.68,118.05 509.78,108.58 510.3,104.0 C510.82,99.42 510.75,97.50 511.1,97.5 C511.45,99.58 511.98,114.02 512.4,116.5 C512.82,116.50 513.05,113.08 513.6,112.4 C514.15,112.40 515.03,112.40 515.7,112.4 C516.37,114.87 517.18,123.78 517.6,127.2 C518.02,130.62 517.72,128.40 518.2,132.9 C518.68,137.40 519.87,154.20 520.5,154.2 C521.13,152.38 521.40,131.10 522.0,122.0 C522.60,112.90 523.33,101.77 524.1,99.6 C524.87,99.60 525.83,105.07 526.6,109.0 C527.37,112.93 528.28,119.78 528.7,123.2 C529.12,126.62 528.75,128.72 529.1,129.5 C529.45,129.50 530.25,127.90 530.8,127.9 C531.35,128.05 531.85,129.30 532.4,130.4 C532.95,131.50 533.53,132.83 534.1,134.5 C534.67,136.17 535.25,140.40 535.8,140.4 C536.35,139.72 536.57,130.40 537.4,130.4 C538.23,133.82 540.07,155.63 540.8,160.9 C541.53,162.00 541.63,161.82 541.8,162.0" fill="none" stroke="#ff7f0e" stroke-width="1.3" stroke-linejoin="round" clip-path="url(#cb)"/>
<line x1="304.40" y1="230.20" x2="306.60" y2="230.20" stroke="#000" stroke-width="0.5"/>
<text x="304.00" y="232.60" font-family="Liberation Sans" font-size="6.5" fill="#1a1a1a" stroke="#000" stroke-width="0.06" text-anchor="end" textLength="17.92" lengthAdjust="spacingAndGlyphs">−0.20</text>
<line x1="304.40" y1="204.10" x2="306.60" y2="204.10" stroke="#000" stroke-width="0.5"/>
<text x="304.00" y="206.50" font-family="Liberation Sans" font-size="6.5" fill="#1a1a1a" stroke="#000" stroke-width="0.06" text-anchor="end" textLength="17.92" lengthAdjust="spacingAndGlyphs">−0.15</text>
<line x1="304.40" y1="178.00" x2="306.60" y2="178.00" stroke="#000" stroke-width="0.5"/>
<text x="304.00" y="180.40" font-family="Liberation Sans" font-size="6.5" fill="#1a1a1a" stroke="#000" stroke-width="0.06" text-anchor="end" textLength="17.92" lengthAdjust="spacingAndGlyphs">−0.10</text>
<line x1="304.40" y1="151.90" x2="306.60" y2="151.90" stroke="#000" stroke-width="0.5"/>
<text x="304.00" y="154.30" font-family="Liberation Sans" font-size="6.5" fill="#1a1a1a" stroke="#000" stroke-width="0.06" text-anchor="end" textLength="17.92" lengthAdjust="spacingAndGlyphs">−0.05</text>
<line x1="304.40" y1="125.80" x2="306.60" y2="125.80" stroke="#000" stroke-width="0.5"/>
<text x="304.00" y="128.20" font-family="Liberation Sans" font-size="6.5" fill="#1a1a1a" stroke="#000" stroke-width="0.06" text-anchor="end" textLength="13.02" lengthAdjust="spacingAndGlyphs">0.00</text>
<line x1="304.40" y1="99.70" x2="306.60" y2="99.70" stroke="#000" stroke-width="0.5"/>
<text x="304.00" y="102.10" font-family="Liberation Sans" font-size="6.5" fill="#1a1a1a" stroke="#000" stroke-width="0.06" text-anchor="end" textLength="13.02" lengthAdjust="spacingAndGlyphs">0.05</text>
<line x1="304.40" y1="73.60" x2="306.60" y2="73.60" stroke="#000" stroke-width="0.5"/>
<text x="304.00" y="76.00" font-family="Liberation Sans" font-size="6.5" fill="#1a1a1a" stroke="#000" stroke-width="0.06" text-anchor="end" textLength="13.02" lengthAdjust="spacingAndGlyphs">0.10</text>
<line x1="304.40" y1="47.50" x2="306.60" y2="47.50" stroke="#000" stroke-width="0.5"/>
<text x="304.00" y="49.90" font-family="Liberation Sans" font-size="6.5" fill="#1a1a1a" stroke="#000" stroke-width="0.06" text-anchor="end" textLength="13.02" lengthAdjust="spacingAndGlyphs">0.15</text>
<line x1="304.40" y1="21.40" x2="306.60" y2="21.40" stroke="#000" stroke-width="0.5"/>
<text x="304.00" y="23.80" font-family="Liberation Sans" font-size="6.5" fill="#1a1a1a" stroke="#000" stroke-width="0.06" text-anchor="end" textLength="13.02" lengthAdjust="spacingAndGlyphs">0.20</text>
<line x1="306.60" y1="230.20" x2="306.60" y2="232.40" stroke="#000" stroke-width="0.5"/>
<text x="306.60" y="237.55" font-family="Liberation Sans" font-size="6.5" fill="#1a1a1a" stroke="#000" stroke-width="0.06" text-anchor="middle" textLength="14.20" lengthAdjust="spacingAndGlyphs">−0.2</text>
<line x1="345.80" y1="230.20" x2="345.80" y2="232.40" stroke="#000" stroke-width="0.5"/>
<text x="345.80" y="237.55" font-family="Liberation Sans" font-size="6.5" fill="#1a1a1a" stroke="#000" stroke-width="0.06" text-anchor="middle" textLength="9.30" lengthAdjust="spacingAndGlyphs">0.0</text>
<line x1="385.00" y1="230.20" x2="385.00" y2="232.40" stroke="#000" stroke-width="0.5"/>
<text x="385.00" y="237.55" font-family="Liberation Sans" font-size="6.5" fill="#1a1a1a" stroke="#000" stroke-width="0.06" text-anchor="middle" textLength="9.30" lengthAdjust="spacingAndGlyphs">0.2</text>
<line x1="424.20" y1="230.20" x2="424.20" y2="232.40" stroke="#000" stroke-width="0.5"/>
<text x="424.20" y="237.55" font-family="Liberation Sans" font-size="6.5" fill="#1a1a1a" stroke="#000" stroke-width="0.06" text-anchor="middle" textLength="9.30" lengthAdjust="spacingAndGlyphs">0.4</text>
<line x1="463.40" y1="230.20" x2="463.40" y2="232.40" stroke="#000" stroke-width="0.5"/>
<text x="463.40" y="237.55" font-family="Liberation Sans" font-size="6.5" fill="#1a1a1a" stroke="#000" stroke-width="0.06" text-anchor="middle" textLength="9.30" lengthAdjust="spacingAndGlyphs">0.6</text>
<line x1="502.60" y1="230.20" x2="502.60" y2="232.40" stroke="#000" stroke-width="0.5"/>
<text x="502.60" y="237.55" font-family="Liberation Sans" font-size="6.5" fill="#1a1a1a" stroke="#000" stroke-width="0.06" text-anchor="middle" textLength="9.30" lengthAdjust="spacingAndGlyphs">0.8</text>
<line x1="541.80" y1="230.20" x2="541.80" y2="232.40" stroke="#000" stroke-width="0.5"/>
<text x="541.80" y="237.55" font-family="Liberation Sans" font-size="6.5" fill="#1a1a1a" stroke="#000" stroke-width="0.06" text-anchor="middle" textLength="9.30" lengthAdjust="spacingAndGlyphs">1.0</text>
<text x="424.20" y="246.50" font-family="Liberation Sans" font-weight="bold" font-size="8.5" fill="#000" stroke="#000" stroke-width="0.15" text-anchor="middle" textLength="26.5" lengthAdjust="spacingAndGlyphs">Time/s</text>
<text transform="translate(283.4,123.3) rotate(-90)" font-family="Liberation Sans" font-weight="bold" font-size="8.1" fill="#000" stroke="#000" stroke-width="0.15" text-anchor="middle" textLength="96.4" lengthAdjust="spacingAndGlyphs">Difference (% dec. acc.)</text>
<text x="309.10" y="28.25" font-family="Liberation Sans" font-weight="bold" font-size="7" fill="#000" textLength="11.5" lengthAdjust="spacingAndGlyphs">(b)</text>
<rect x="306.60" y="21.40" width="235.20" height="208.80" fill="none" stroke="#555" stroke-width="0.5"/>
<line x1="89.70" y1="210.5" x2="91.70" y2="210.5" stroke="#2ca02c" stroke-width="1.55" stroke-linecap="round"/>
<line x1="103.65" y1="210.5" x2="105.45" y2="210.5" stroke="#2ca02c" stroke-width="1.55" stroke-linecap="round"/>
<line x1="108.80" y1="210.5" x2="110.80" y2="210.5" stroke="#2ca02c" stroke-width="1.55" stroke-linecap="round"/>
<line x1="114.20" y1="210.5" x2="143.90" y2="210.5" stroke="#2ca02c" stroke-width="1.55" stroke-linecap="round"/>
<line x1="148.80" y1="210.5" x2="151.70" y2="210.5" stroke="#2ca02c" stroke-width="1.55" stroke-linecap="round"/>
<line x1="157.40" y1="210.5" x2="184.40" y2="210.5" stroke="#2ca02c" stroke-width="1.55" stroke-linecap="round"/>
<line x1="188.20" y1="210.5" x2="190.00" y2="210.5" stroke="#2ca02c" stroke-width="1.55" stroke-linecap="round"/>
<line x1="192.40" y1="210.5" x2="210.80" y2="210.5" stroke="#2ca02c" stroke-width="1.55" stroke-linecap="round"/>
<line x1="212.30" y1="210.5" x2="214.10" y2="210.5" stroke="#2ca02c" stroke-width="1.55" stroke-linecap="round"/>
<line x1="225.60" y1="210.5" x2="228.50" y2="210.5" stroke="#2ca02c" stroke-width="1.55" stroke-linecap="round"/>
<line x1="235.60" y1="210.5" x2="239.40" y2="210.5" stroke="#2ca02c" stroke-width="1.55" stroke-linecap="round"/>
<line x1="113.65" y1="213.5" x2="115.45" y2="213.5" stroke="#ff7f0e" stroke-width="1.55" stroke-linecap="round"/>
<line x1="117.40" y1="213.5" x2="126.20" y2="213.5" stroke="#ff7f0e" stroke-width="1.55" stroke-linecap="round"/>
<line x1="129.70" y1="213.5" x2="144.40" y2="213.5" stroke="#ff7f0e" stroke-width="1.55" stroke-linecap="round"/>
<line x1="150.10" y1="213.5" x2="151.70" y2="213.5" stroke="#ff7f0e" stroke-width="1.55" stroke-linecap="round"/>
<line x1="160.60" y1="213.5" x2="164.90" y2="213.5" stroke="#ff7f0e" stroke-width="1.55" stroke-linecap="round"/>
<line x1="167.90" y1="213.5" x2="183.50" y2="213.5" stroke="#ff7f0e" stroke-width="1.55" stroke-linecap="round"/>
<line x1="197.00" y1="213.5" x2="208.00" y2="213.5" stroke="#ff7f0e" stroke-width="1.55" stroke-linecap="round"/>
<line x1="224.70" y1="213.5" x2="227.60" y2="213.5" stroke="#ff7f0e" stroke-width="1.55" stroke-linecap="round"/>
<line x1="230.90" y1="213.5" x2="232.70" y2="213.5" stroke="#ff7f0e" stroke-width="1.55" stroke-linecap="round"/>
<line x1="234.70" y1="213.5" x2="237.60" y2="213.5" stroke="#ff7f0e" stroke-width="1.55" stroke-linecap="round"/>
<line x1="110.10" y1="216.4" x2="113.00" y2="216.4" stroke="#1f77b4" stroke-width="1.55" stroke-linecap="round"/>
<line x1="120.60" y1="216.4" x2="182.10" y2="216.4" stroke="#1f77b4" stroke-width="1.55" stroke-linecap="round"/>
<line x1="191.50" y1="216.4" x2="198.50" y2="216.4" stroke="#1f77b4" stroke-width="1.55" stroke-linecap="round"/>
<line x1="225.60" y1="216.4" x2="229.40" y2="216.4" stroke="#1f77b4" stroke-width="1.55" stroke-linecap="round"/>
<line x1="382.80" y1="216.9" x2="384.60" y2="216.9" stroke="#1f77b4" stroke-width="1.55" stroke-linecap="round"/>
<line x1="400.40" y1="216.9" x2="432.90" y2="216.9" stroke="#1f77b4" stroke-width="1.55" stroke-linecap="round"/>
<line x1="464.70" y1="216.9" x2="468.90" y2="216.9" stroke="#1f77b4" stroke-width="1.55" stroke-linecap="round"/>
<line x1="486.40" y1="216.9" x2="496.10" y2="216.9" stroke="#1f77b4" stroke-width="1.55" stroke-linecap="round"/>
<line x1="371.50" y1="208.5" x2="380.10" y2="208.5" stroke="#ff7f0e" stroke-width="1.55" stroke-linecap="round"/>
<line x1="387.30" y1="208.5" x2="396.50" y2="208.5" stroke="#ff7f0e" stroke-width="1.55" stroke-linecap="round"/>
<line x1="405.45" y1="208.5" x2="407.25" y2="208.5" stroke="#ff7f0e" stroke-width="1.55" stroke-linecap="round"/>
<line x1="441.80" y1="208.5" x2="455.90" y2="208.5" stroke="#ff7f0e" stroke-width="1.55" stroke-linecap="round"/>
<line x1="471.70" y1="208.5" x2="474.90" y2="208.5" stroke="#ff7f0e" stroke-width="1.55" stroke-linecap="round"/>
<line x1="477.00" y1="208.5" x2="478.80" y2="208.5" stroke="#ff7f0e" stroke-width="1.55" stroke-linecap="round"/>
<line x1="504.40" y1="208.5" x2="506.50" y2="208.5" stroke="#ff7f0e" stroke-width="1.55" stroke-linecap="round"/>
<line x1="515.90" y1="208.5" x2="517.90" y2="208.5" stroke="#ff7f0e" stroke-width="1.55" stroke-linecap="round"/>
<polygon points="28.90,84.90 32.70,84.90 30.80,82.10" fill="#1f77b4"/>
<polygon points="28.90,87.40 32.70,87.40 30.80,84.60" fill="#2ca02c"/>
<polygon points="28.90,96.80 32.70,96.80 30.80,94.00" fill="#ff7f0e"/>
<polygon points="122.30,234.10 125.70,234.10 124.00,231.50" fill="#2ca02c"/>
<polygon points="120.70,237.90 124.10,237.90 122.40,235.30" fill="#1f77b4"/>
<polygon points="173.80,233.90 177.20,233.90 175.50,231.30" fill="#ff7f0e"/>
<rect x="223.2" y="23.0" width="42.60" height="18.30" rx="0.8" fill="#fff" fill-opacity="0.8" stroke="#cfcfcf" stroke-width="0.55"/>
<line x1="224.0" y1="26.4" x2="233.7" y2="26.4" stroke="#1f77b4" stroke-width="1.3"/>
<text x="235.9" y="28.70" font-family="Liberation Sans" font-size="4.7" fill="#2e2e2e" textLength="16.6" lengthAdjust="spacingAndGlyphs">OP-MEG</text>
<line x1="224.0" y1="32.6" x2="233.7" y2="32.6" stroke="#ff7f0e" stroke-width="1.3"/>
<text x="235.9" y="34.90" font-family="Liberation Sans" font-size="4.7" fill="#2e2e2e" textLength="8.7" lengthAdjust="spacingAndGlyphs">EEG</text>
<line x1="224.0" y1="38.6" x2="233.7" y2="38.6" stroke="#2ca02c" stroke-width="1.3"/>
<text x="235.9" y="40.90" font-family="Liberation Sans" font-size="4.7" fill="#2e2e2e" textLength="27.9" lengthAdjust="spacingAndGlyphs">OP-MEG+EEG</text>
<rect x="481.3" y="23.5" width="58.20" height="12.50" rx="0.8" fill="#fff" fill-opacity="0.8" stroke="#cfcfcf" stroke-width="0.55"/>
<line x1="482.7" y1="26.5" x2="492.0" y2="26.5" stroke="#1f77b4" stroke-width="1.3"/>
<text x="495.1" y="28.80" font-family="Liberation Sans" font-size="4.7" fill="#2e2e2e" textLength="24.3" lengthAdjust="spacingAndGlyphs">OPMEG-EEG</text>
<line x1="482.7" y1="32.4" x2="492.0" y2="32.4" stroke="#ff7f0e" stroke-width="1.3"/>
<text x="495.1" y="34.70" font-family="Liberation Sans" font-size="4.7" fill="#2e2e2e" textLength="42.0" lengthAdjust="spacingAndGlyphs">OPMEG&amp;EEG-OPMEG</text>
</svg></body></html>
